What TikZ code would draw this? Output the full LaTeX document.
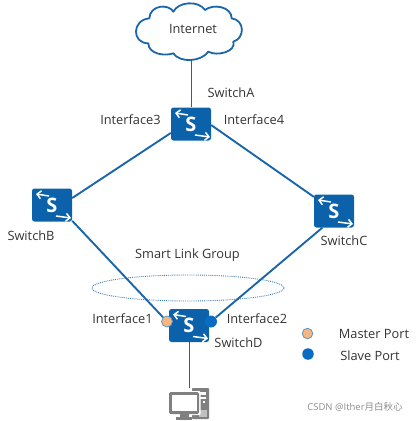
\documentclass[tikz,border=0pt]{standalone}
\usepackage{fontspec}
\setmainfont{Open Sans}
\newfontfamily\cjkwm{Noto Sans CJK SC}
\usetikzlibrary{arrows.meta,calc}
\definecolor{swblue}{HTML}{0B62AA}
\definecolor{linkblue}{HTML}{1A66A8}
\definecolor{masterc}{HTML}{F7B581}
\definecolor{slavec}{HTML}{0A6BC2}
\definecolor{txt}{HTML}{333333}
\definecolor{pcgray}{HTML}{808080}
\tikzset{
  swnode/.style={rectangle,rounded corners=2.5pt,fill=swblue,minimum width=40pt,minimum height=33pt,inner sep=0pt,
    text=white,font=\fontsize{20}{20}\selectfont\bfseries,
    path picture={
      \draw[white,line width=1.5pt,-{Straight Barb[length=4pt,width=8pt]}] ($(path picture bounding box.center)+(-3,-9)$) -- ($(path picture bounding box.center)+(-16,-11)$);
      \draw[white,line width=1.5pt,-{Straight Barb[length=4pt,width=8pt]}] ($(path picture bounding box.center)+(4,11)$) -- ($(path picture bounding box.center)+(19,13)$);
    }},
  link/.style={draw=linkblue,line width=1.9pt},
  lbl/.style={text=txt,font=\fontsize{12.8}{14}\selectfont,inner sep=0pt},
  portm/.style={circle,fill=masterc,draw=linkblue!70,line width=0.8pt,minimum size=11pt,inner sep=0pt},
  ports/.style={circle,fill=slavec,minimum size=12pt,inner sep=0pt},
}
\begin{document}
\begin{tikzpicture}[x=1pt,y=-1pt]
\useasboundingbox (0,0) rectangle (418,421);
% cloud
\begin{scope}[shift={(130,0)},x=0.3333pt,y=-0.3333pt]
\draw[draw=linkblue,line width=1.8pt,fill=white,line join=round]
 (58,55) .. controls (60,15) and (115,10) .. (130,35)
 .. controls (145,5) and (205,0) .. (225,30)
 .. controls (250,10) and (305,20) .. (305,55)
 .. controls (345,60) and (345,115) .. (310,125)
 .. controls (320,155) and (260,170) .. (235,155)
 .. controls (215,185) and (150,190) .. (130,160)
 .. controls (100,170) and (55,160) .. (55,130)
 .. controls (5,130) and (5,60) .. (58,55) -- cycle;
\end{scope}
\node[lbl] (inet) at (193,29) {Internet};
\coordinate (cloudbot) at (191.5,61);
% ellipse
\draw[linkblue!85,line width=0.9pt,densely dotted] (188,288) ellipse [x radius=96,y radius=13];
% switches
\node[swnode] (A) at (191,124) {S};
\node[swnode] (B) at (52,205) {S};
\node[swnode] (C) at (334,211) {S};
\node[swnode] (D) at (189,325.5) {S};
% ports
\node[portm] (I1) at (167,321.5) {};
\node[ports] (I2) at (211,321.5) {};
% pc
\node[minimum width=40pt,minimum height=31pt,inner sep=0pt] (PC) at (189.5,403.5) {};
\fill[pcgray,rounded corners=0.8pt] (192,388) rectangle (209,419);
\fill[white] (199.5,392) rectangle (206,394.5);
\fill[white] (199.5,396.5) rectangle (206,398.5);
\fill[white] (203,401) rectangle (205,403);
\fill[pcgray!50] (199,410) rectangle (207,417);
\fill[white,rounded corners=1pt] (167.5,391) rectangle (200.5,415);
\fill[pcgray,rounded corners=1.5pt] (169,392) rectangle (199,414);
\fill[white] (171.5,394.5) rectangle (197,411);
\fill[pcgray] (180,414) rectangle (189,418);
\fill[pcgray] (176,417) rectangle (192,419.5);
% links
\draw[link] (cloudbot) -- (A.north -| cloudbot);
\draw[link] (A.204) -- (B.19);
\draw[link] (A.-3) -- (C.145);
\draw[link] (B.-38) -- (I1);
\draw[link] (C.235) -- (I2);
\draw[link] (D.south -| PC.north) -- (PC.north);
% labels
\node[lbl] (la) at (231,93) {SwitchA};
\node[lbl] (i3) at (130.5,120) {Interface3};
\node[lbl] (i4) at (254,120) {Interface4};
\node[lbl] (lb) at (31,236) {SwitchB};
\node[lbl] (lc) at (344,241) {SwitchC};
\node[lbl] (sl) at (187.5,255) {Smart Link Group};
\node[lbl] (i1) at (122.5,319) {Interface1};
\node[lbl] (i2) at (257,319) {Interface2};
\node[lbl] (ld) at (238.5,343) {SwitchD};
\node[lbl] (mp) at (374,333.5) {Master Port};
\node[lbl] (spt) at (370,355.5) {Slave Port};
\node[portm,minimum size=10.5pt] (lm) at (307.5,333.5) {};
\node[ports,minimum size=11.5pt] (ls) at (308,354) {};
\node[text=black!45,font=\fontsize{9.5}{11}\selectfont,inner sep=0pt] (wm) at (355,407) {CSDN @Ither{\cjkwm 月白秋心}};
\end{tikzpicture}
\end{document}
